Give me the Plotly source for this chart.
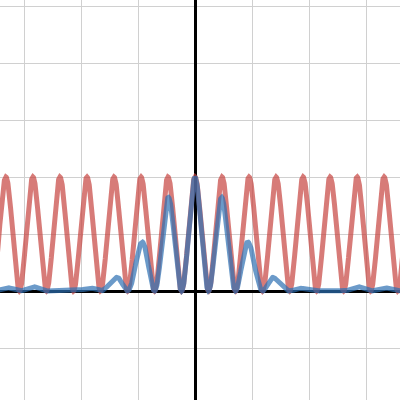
import numpy as np
import plotly.graph_objects as go

# peak spacing and heights (grid step = 1)
period = 0.474
amp = 2.0
# blue envelope at peak index k = 0, 1, 2, ...
peak_index = [0, 1, 2, 3, 4, 5, 6, 7, 8]
blue_env = [1.0, 0.82, 0.42, 0.10, 0.02, 0.0, 0.04, 0.03, 0.02]

x = np.linspace(-3.5, 3.7, 4000)
wave = np.cos(np.pi * x / period) ** 2
red = amp * wave
blue = amp * wave * np.interp(np.abs(x) / period, peak_index, blue_env)

fig = go.Figure()
fig.add_trace(go.Scatter(x=x, y=red, mode='lines',
                         line=dict(color='#c74440', width=5), opacity=0.7))
fig.add_trace(go.Scatter(x=x, y=blue, mode='lines',
                         line=dict(color='#2d70b3', width=5), opacity=0.7))

axis = dict(showticklabels=False, showgrid=True, gridcolor='#d0d0d0', gridwidth=1,
            dtick=1, zeroline=True, zerolinecolor='black', zerolinewidth=3)
fig.update_xaxes(range=[-195 / 57, 205 / 57], **axis)
fig.update_yaxes(range=[-109 / 57, 291 / 57], **axis)
fig.update_layout(width=400, height=400, margin=dict(l=0, r=0, t=0, b=0),
                  plot_bgcolor='white', paper_bgcolor='white', showlegend=False)
fig.write_html("out.html", config={'displayModeBar': False},
               post_script="document.body.style.margin='0';")
